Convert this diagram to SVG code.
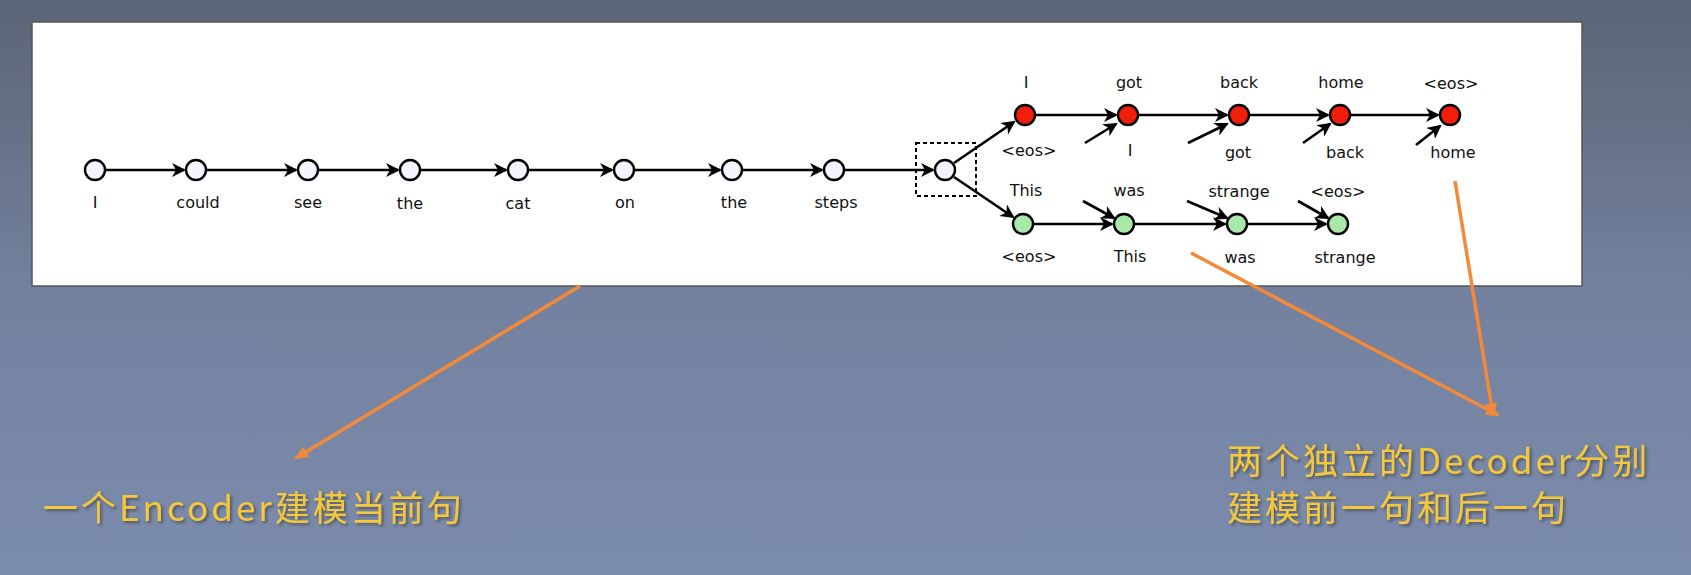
<svg xmlns="http://www.w3.org/2000/svg" width="1691" height="575" viewBox="0 0 1691 575">
<style>
.n{stroke:#000;stroke-width:2.4}
.w{fill:#f4f4ff}.r{fill:#f01e0a}.g{fill:#a8e8a8}
.t{font-family:"DejaVu Sans",sans-serif;font-size:16px;text-anchor:middle;fill:#111}
.e{stroke:#000;stroke-width:2.6;fill:none;marker-end:url(#a)}
.o{stroke:#f28a3a;stroke-width:3.5;fill:none;marker-end:url(#oa)}
.c{font-family:"Noto Sans CJK SC",sans-serif;font-size:35px;fill:#f5c83a;letter-spacing:3px}
</style>
<defs>
<linearGradient id="bg" x1="0" y1="0" x2="0" y2="1"><stop offset="0" stop-color="#5c6477"/><stop offset="0.5" stop-color="#73819e"/><stop offset="1" stop-color="#7c8cad"/></linearGradient>
<marker id="a" markerWidth="14" markerHeight="14" refX="12" refY="7" orient="auto" markerUnits="userSpaceOnUse"><path d="M0,0 L14,7 L0,14 L4,7 z" fill="#000"/></marker>
<marker id="oa" markerWidth="16" markerHeight="16" refX="12" refY="8" orient="auto" markerUnits="userSpaceOnUse"><path d="M0,2 L14,8 L0,14 z" fill="#f28a3a"/></marker>
<filter id="sh"><feDropShadow dx="2" dy="2" stdDeviation="1.5" flood-color="#333" flood-opacity="0.6"/></filter>
</defs>
<rect width="1691" height="575" fill="url(#bg)"/>
<rect x="32" y="22" width="1550" height="264" fill="#fff" stroke="#555" stroke-width="1.5"/>
<g id="connectors">
<path class="e" d="M105,170H184"/><path class="e" d="M206,170H296"/><path class="e" d="M318,170H398"/><path class="e" d="M420,170H506"/><path class="e" d="M528,170H612"/><path class="e" d="M634,170H720"/><path class="e" d="M742,170H822"/><path class="e" d="M844,170H933"/>
<path class="e" d="M954,163L1014,122"/><path class="e" d="M954,177L1013,217"/>
<path class="e" d="M1035,115H1116"/><path class="e" d="M1138,115H1227"/><path class="e" d="M1249,115H1328"/><path class="e" d="M1350,115H1438"/>
<path class="e" d="M1085,143L1116,124"/><path class="e" d="M1188,143L1227,124"/><path class="e" d="M1303,143L1330,124"/><path class="e" d="M1416,145L1440,126"/>
<path class="e" d="M1033,224H1112"/><path class="e" d="M1134,224H1225"/><path class="e" d="M1247,224H1326"/>
<path class="e" d="M1083,201L1114,218"/><path class="e" d="M1187,201L1227,218"/><path class="e" d="M1298,201L1328,218"/>
<rect x="916" y="143" width="60" height="53" fill="none" stroke="#000" stroke-width="2" stroke-dasharray="4,3"/>
<path class="o" d="M580,286L296,458"/><path class="o" d="M1191,253L1498,415"/><path class="o" d="M1455,181L1493,415"/>
</g>
<g id="encoder">
<circle class="n w" cx="95" cy="170" r="10"/><circle class="n w" cx="196" cy="170" r="10"/><circle class="n w" cx="308" cy="170" r="10"/><circle class="n w" cx="410" cy="170" r="10"/><circle class="n w" cx="518" cy="170" r="10"/><circle class="n w" cx="624" cy="170" r="10"/><circle class="n w" cx="732" cy="170" r="10"/><circle class="n w" cx="834" cy="170" r="10"/><circle class="n w" cx="945" cy="170" r="10"/>
<text class="t" x="95" y="208">I</text><text class="t" x="198" y="208">could</text><text class="t" x="308" y="208">see</text><text class="t" x="410" y="209">the</text><text class="t" x="518" y="209">cat</text><text class="t" x="625" y="208">on</text><text class="t" x="734" y="208">the</text><text class="t" x="836" y="208">steps</text>
</g>
<g id="decoder-next">
<circle class="n r" cx="1025" cy="115" r="10"/><circle class="n r" cx="1128" cy="115" r="10"/><circle class="n r" cx="1239" cy="115" r="10"/><circle class="n r" cx="1340" cy="115" r="10"/><circle class="n r" cx="1450" cy="115" r="10"/>
<text class="t" x="1026" y="88">I</text><text class="t" x="1129" y="88">got</text><text class="t" x="1239" y="88">back</text><text class="t" x="1341" y="88">home</text><text class="t" x="1451" y="89">&lt;eos&gt;</text>
<text class="t" x="1029" y="156">&lt;eos&gt;</text><text class="t" x="1130" y="156">I</text><text class="t" x="1238" y="158">got</text><text class="t" x="1345" y="158">back</text><text class="t" x="1453" y="158">home</text>
</g>
<g id="decoder-prev">
<circle class="n g" cx="1023" cy="224" r="10"/><circle class="n g" cx="1124" cy="224" r="10"/><circle class="n g" cx="1237" cy="224" r="10"/><circle class="n g" cx="1338" cy="224" r="10"/>
<text class="t" x="1026" y="196">This</text><text class="t" x="1129" y="196">was</text><text class="t" x="1239" y="197">strange</text><text class="t" x="1338" y="197">&lt;eos&gt;</text>
<text class="t" x="1029" y="262">&lt;eos&gt;</text><text class="t" x="1130" y="262">This</text><text class="t" x="1240" y="263">was</text><text class="t" x="1345" y="263">strange</text>
</g>
<g id="captions" filter="url(#sh)">
<text class="c" x="43" y="521">一个Encoder建模当前句</text>
<text class="c" x="1227" y="474">两个独立的Decoder分别</text>
<text class="c" x="1227" y="521">建模前一句和后一句</text>
</g>
</svg>
